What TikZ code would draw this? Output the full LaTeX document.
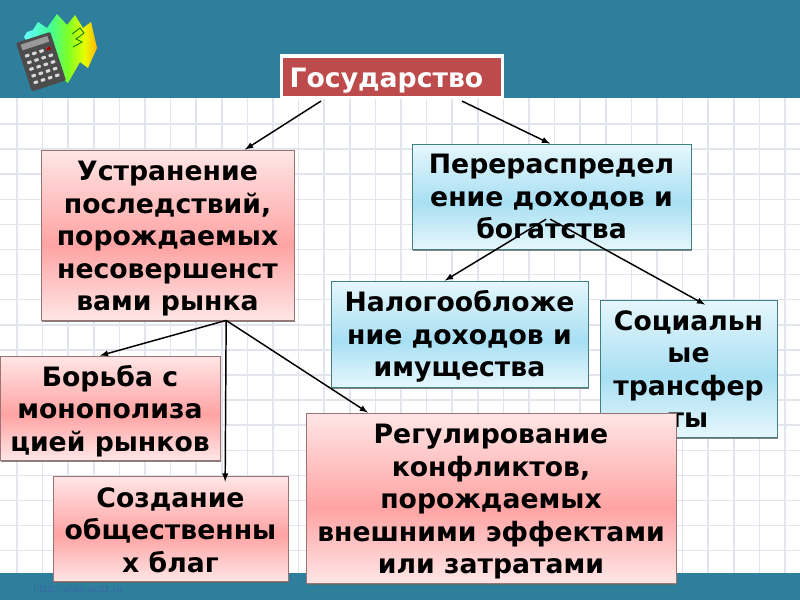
\documentclass[tikz,border=0pt]{standalone}
\usepackage{fontspec}
\setmainfont{DejaVu Sans}
\usetikzlibrary{shadows}
\definecolor{headteal}{HTML}{2E7F9B}
\definecolor{gridblue}{HTML}{E3E5EE}
\definecolor{pinkpale}{HTML}{FFE6E6}
\definecolor{pinkdeep}{HTML}{FFA3A3}
\definecolor{bluepale}{HTML}{E6F7FC}
\definecolor{bluedeep}{HTML}{A8DFF3}
\definecolor{sitecolor}{HTML}{3868A4}
\newcommand{\firstline}[1][20pt]{\rule{0pt}{#1}}
\pgfdeclareverticalshading{pinkfade}{100bp}{color(0bp)=(pinkpale); color(25bp)=(pinkpale); color(47bp)=(pinkdeep); color(75bp)=(pinkpale); color(100bp)=(pinkpale)}
\pgfdeclareverticalshading{bluefade}{100bp}{color(0bp)=(bluepale); color(25bp)=(bluepale); color(47bp)=(bluedeep); color(75bp)=(bluepale); color(100bp)=(bluepale)}
\pgfdeclarehorizontalshading{sheetfade}{100bp}{color(0bp)=(cyan!60!white); color(25bp)=(cyan!60!white); color(42bp)=(cyan!50!green!75!white); color(55bp)=(green!60!yellow!85!white); color(66bp)=(yellow!90!green); color(75bp)=(orange!60!yellow); color(100bp)=(orange!60!yellow)}
\tikzset{
  cell/.style={align=center,inner sep=0pt,font=\fontsize{20}{24.4}\selectfont\bfseries,text=black,
    drop shadow={shadow xshift=1pt,shadow yshift=-1.5pt,fill=black!60,opacity=0.8}},
  pinkbox/.style={cell,shading=pinkfade,draw=red!30!black!55,line width=0.6pt},
  bluebox/.style={cell,shading=bluefade,draw=teal!50!gray,line width=0.6pt},
  arr/.style={-latex,line width=1.1pt,black},
  gridline/.style={gridblue,line width=1.1pt},
  calckey/.style={fill=black!15,rounded corners=0.5pt}
}
\begin{document}
\begin{tikzpicture}[x=0.75pt,y=0.75pt,yscale=-1,xscale=1]
    \useasboundingbox (0,0) rectangle (800,600);
    \fill [white] (0,0) rectangle (800,600);

    %Shape: paper grid
    \foreach \x in {17,42.6,...,800} \draw [gridline] (\x,98) -- (\x,573);
    \foreach \y in {124,149.1,...,573} \draw [gridline] (0,\y) -- (800,\y);

    %Shape: header and footer bands
    \fill [headteal] (0,0) rectangle (800,98);
    \fill [headteal] (0,573) rectangle (800,600);

    %Shape: zigzag sheet behind the calculator
    \shade [shading=sheetfade] (24,37) -- (27,32) -- (33,30) -- (38,22) -- (47,28) -- (57,14) -- (67,25) -- (75,15) -- (83,28) -- (91,22) -- (97,48) -- (88,68) -- (80,62) -- (68,83) -- (40,60) -- cycle;
    \draw [green!45!black,line width=0.6pt] (72,34) -- (80,28) -- (84,33) -- (76,39) -- (82,42) -- (73,47);
    %Shape: calculator
    \begin{scope}[shift={(16,43)},rotate=-18]
        \fill [black!70,rounded corners=1pt] (0,0) rectangle (36,51);
        \fill [black!40] (4,3) rectangle (32,9);
        \foreach \cy in {14,21,28,35,42}
            \foreach \cx in {4.5,12,19.5,27}
                \fill [calckey] (\cx,\cy) rectangle +(4.5,3);
        \fill [red!60!black] (27,14) rectangle +(4.5,3);
    \end{scope}

    % Text Node
    \node (state) [fill={rgb,255:red,190;green,75;blue,75},draw=white,line width=2.5pt,minimum height=31pt,text width=153.5pt,inner xsep=6pt,inner ysep=0pt,align=left,text=white,font=\fontsize{20}{24}\selectfont\bfseries] at (392,76.75) {\firstline Государство};

    \node (elim) [pinkbox,minimum width=189.75pt,minimum height=127.5pt] at (167.5,235) {\firstline Устранение\\последствий,\\порождаемых\\несовершенст\\вами рынка};
    \node (redis) [bluebox,minimum width=209.25pt,minimum height=78.75pt] at (551.5,196.5) {Перераспредел\\ение доходов и\\богатства};
    \node (tax) [bluebox,minimum width=192.75pt,minimum height=79.5pt] at (459.5,334) {\firstline Налогообложе\\ние доходов и\\имущества};
    \node (social) [bluebox,minimum width=132.75pt,minimum height=102.75pt] at (688.5,368.5) {\firstline[16pt]Социальн\\ые\\трансфер\\ты};
    \node (fight) [pinkbox,minimum width=165pt,minimum height=78pt] at (110,408) {\firstline Борьба с\\монополиза\\цией рынков};
    \node (create) [pinkbox,minimum width=176.25pt,minimum height=78.75pt] at (170.5,528.5) {\firstline[17pt]Создание\\общественны\\х благ};
    \node (regul) [pinkbox,minimum width=277.5pt,minimum height=127.5pt] at (491,498) {\firstline Регулирование\\конфликтов,\\порождаемых\\внешними эффектами\\или затратами};

    % Connectors
    \draw [arr] ([xshift=-53.25pt,yshift=1.5pt]state.south) -- ([xshift=58.1pt]elim.north);
    \draw [arr] ([xshift=52.5pt,yshift=1.5pt]state.south) -- ([xshift=-1.1pt]redis.north);
    \draw [arr] ([xshift=-4pt,yshift=17pt]redis.center) -- ([xshift=-11pt]tax.north);
    \draw [arr] ([xshift=-1pt,yshift=17pt]redis.center) -- ([xshift=12.4pt,yshift=3.75pt]social.north);
    \draw [arr] ([xshift=44pt]elim.south) -- ([xshift=-7.5pt]fight.north);
    \draw [arr] ([xshift=44pt]elim.south) -- ([xshift=41pt,yshift=4.5pt]create.north);
    \draw [arr] ([xshift=44pt]elim.south) -- ([xshift=-92.3pt]regul.north);

    % Text Node
    \node (site) [anchor=west,inner sep=0pt,text=sitecolor,font=\fontsize{7.3}{9}\selectfont] at (33,590) {http://aida.ucoz.ru};
\end{tikzpicture}
\end{document}
